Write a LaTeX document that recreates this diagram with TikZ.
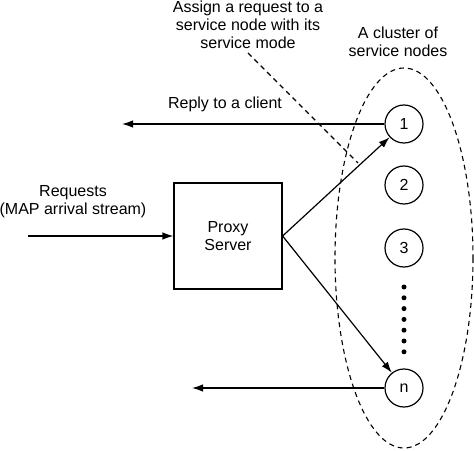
\documentclass[tikz,border=0pt]{standalone}
\usepackage{fontspec}
\setmainfont{Liberation Sans}
\usetikzlibrary{arrows.meta}
\begin{document}
\begin{tikzpicture}[x=1bp,y=-1bp,
  every node/.style={font=\fontsize{16bp}{18bp}\selectfont},
  lbl/.style={align=center,inner sep=0pt},
  srv/.style={draw,circle,line width=1.2bp,minimum size=38bp,inner sep=0pt},
  conn/.style={line width=1.2bp,-{Latex[length=11bp,width=7.5bp]}},
  dashline/.style={line width=1.1bp,dash pattern=on 5bp off 4bp}]
\useasboundingbox (0,0) rectangle (474,451);
\node[draw,line width=1.2bp,minimum width=108bp,minimum height=106bp,align=center,inner sep=0pt] (proxy) at (228,236) {Proxy\\Server};
\node[srv] (n1) at (404,124) {1};
\node[srv] (n2) at (404,185) {2};
\node[srv] (n3) at (404,248) {3};
\node[srv] (nn) at (404,388) {n};
\foreach \i in {0,...,6} \fill (404,{287+\i*10.8}) circle (2.5bp);
\draw[dashline] (404,258) ellipse [x radius=69, y radius=190];
\node[lbl] (asg) at (248,25) {Assign a request to a\\service node with its\\service mode};
\node[lbl] (clu) at (398,42) {A cluster of\\service nodes};
\node[lbl] (rep) at (225,104) {Reply to a client};
\node[lbl] (req) at (73,202) {Requests\\(MAP arrival stream)};
\coordinate (asgend) at (358,163);
\coordinate (asgstart) at (248,53);
\coordinate (repend) at (122,124);
\coordinate (reqstart) at (28,236);
\coordinate (nnend) at (192,388);
\draw[dashline] (asgstart) -- (asgend);
\draw[conn] (reqstart) -- (proxy.west);
\draw[conn] (proxy.east) -- (n1);
\draw[conn] (proxy.east) -- (nn);
\draw[conn] (n1.west) -- (repend);
\draw[conn] (nn.west) -- (nnend);
\end{tikzpicture}
\end{document}
